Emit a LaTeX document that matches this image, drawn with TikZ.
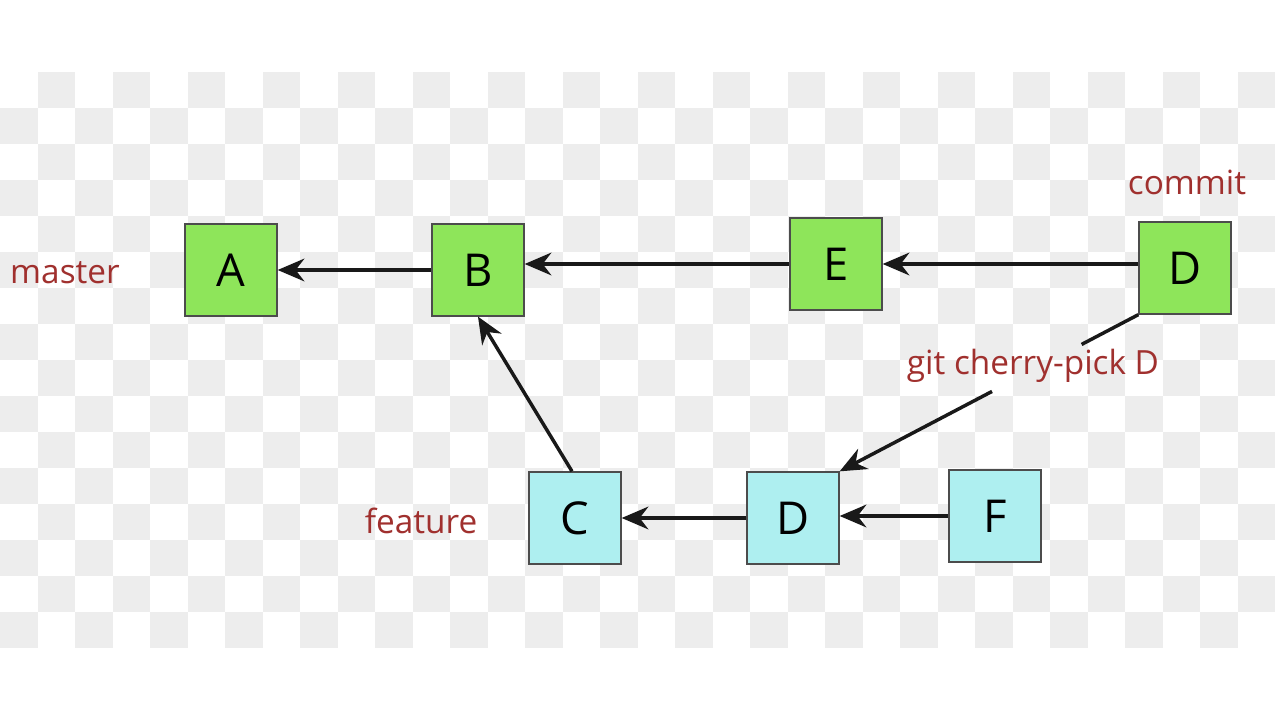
\documentclass[tikz,border=0pt]{standalone}
\usepackage{fontspec}
\setmainfont{Open Sans}
\usetikzlibrary{arrows.meta,calc}
\definecolor{mastergreen}{HTML}{8EE55A}
\definecolor{featurecyan}{HTML}{AEEFF0}
\definecolor{labelred}{HTML}{A0302E}
\definecolor{checkgrey}{HTML}{EDEDED}
\tikzset{
  commit/.style={draw=black!70,line width=1pt,minimum width=69pt,minimum height=69pt,inner sep=0pt,font=\fontsize{34}{40}\selectfont},
  onmaster/.style={commit,fill=mastergreen},
  onfeature/.style={commit,fill=featurecyan},
  tag/.style={text=labelred,font=\fontsize{25}{28}\selectfont},
  parent/.style={-{Stealth[length=20pt,width=17pt]},line width=2.6pt,black!90}
}
\begin{document}
\begin{tikzpicture}[x=0.75pt,y=0.75pt,yscale=-1,xscale=1]
\useasboundingbox (0,0) rectangle (1280,720);
\fill[white] (0,0) rectangle (1280,720);
% checkerboard background
\foreach \i in {0,...,33}{
  \foreach \j in {0,...,15}{
    \pgfmathtruncatemacro{\odd}{mod(\i+\j,2)}
    \ifnum\odd=1
      \fill[checkgrey] (\i*37.5,72+\j*36) rectangle ++(37.5,36);
    \fi
  }
}

% commits
\node[onmaster] (A) at (231,270) {A};
\node[onmaster] (B) at (478,270) {B};
\node[onmaster] (E) at (836,264) {E};
\node[onmaster] (D1) at (1185,268) {D};
\node[onfeature] (C) at (575,518) {C};
\node[onfeature] (D2) at (793,518) {D};
\node[onfeature] (F) at (995,516) {F};

% labels
\node[tag] (master) at (65,273) {master};
\node[tag] (commitlbl) at (1187,182) {commit};
\node[tag] (feature) at (421,521) {feature};
\node[tag] (pick) at (1033,366) {git cherry-pick D};

% history
\draw[parent] (B.west) -- (A.east);
\draw[parent] (E.west) -- (B.east |- E.west);
\draw[parent] (D1.west |- E.east) -- (E.east);
\draw[parent] (C.north) ++(-3,0) -- (B.south);
\draw[parent] (D2.west) -- (C.east);
\draw[parent] (F.west) -- (D2.east |- F.west);

% cherry-pick
\coordinate (p1) at ($(D1.south west)!0.19!(D2.north east)$);
\coordinate (p2) at ($(D1.south west)!0.49!(D2.north east)$);
\draw[line width=2.6pt,black!90] (D1.south west) -- (p1);
\draw[parent] (p2) -- (D2.north east);
\end{tikzpicture}
\end{document}
